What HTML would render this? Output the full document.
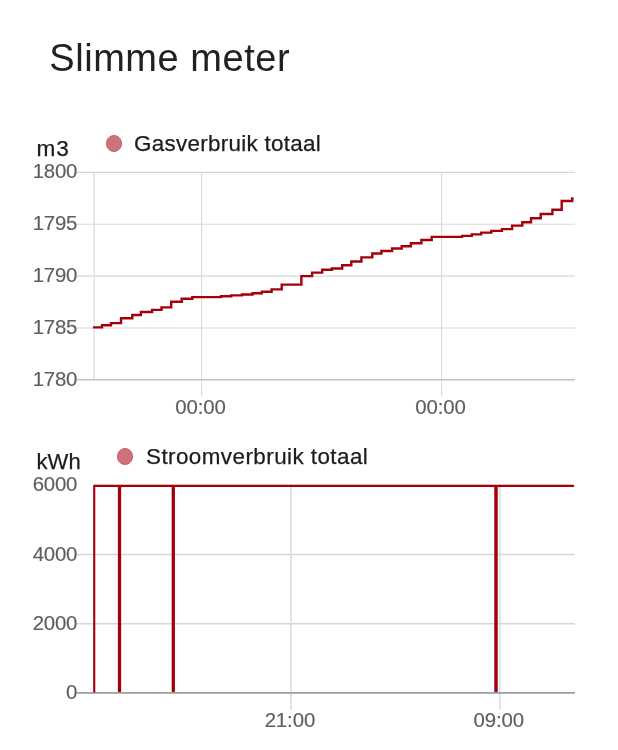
<!DOCTYPE html>
<html lang="nl">
<head>
<meta charset="utf-8">
<title>Slimme meter</title>
<style>
  html, body { margin: 0; padding: 0; background: #ffffff; }
  body { width: 618px; height: 750px; overflow: hidden; position: relative;
         font-family: "Liberation Sans", sans-serif; }
  .t { position: absolute; white-space: nowrap; line-height: 1; }
  #title { left: 49.3px; top: 39.4px; font-size: 38px; letter-spacing: 0.54px; color: #212121; }
  .unit { font-size: 22.4px; color: #1c1c1c; -webkit-text-stroke: 0.25px #1c1c1c; }
  .leg { font-size: 22.4px; color: #1c1c1c; -webkit-text-stroke: 0.25px #1c1c1c; }
  .yl { font-size: 20.4px; letter-spacing: -0.3px; color: #5e5e5e; -webkit-text-stroke: 0.15px #5e5e5e; text-align: right; width: 60px; left: 17px; }
  .xl { font-size: 20.4px; letter-spacing: -0.1px; color: #5e5e5e; -webkit-text-stroke: 0.15px #5e5e5e; text-align: center; width: 80px; }
  .dot { position: absolute; width: 14.4px; height: 14.4px; border-radius: 50%;
         background: #cc7278; border: 1px solid #c8636c; }
  svg { position: absolute; left: 0; top: 0; }
</style>
</head>
<body>
<div class="t" id="title">Slimme meter</div>

<!-- chart 1 -->
<div class="t unit" id="u1" style="left:36.5px; top:138px; font-size:22.6px; letter-spacing:0.9px;">m3</div>
<div class="dot" id="d1" style="left:105.7px; top:135.2px;"></div>
<div class="t leg" id="l1" style="left:134px; top:133.2px; letter-spacing:0.29px;">Gasverbruik totaal</div>

<div class="t yl" id="y1a" style="top:161px;">1800</div>
<div class="t yl" id="y1b" style="top:213px;">1795</div>
<div class="t yl" id="y1c" style="top:265px;">1790</div>
<div class="t yl" id="y1d" style="top:317px;">1785</div>
<div class="t yl" id="y1e" style="top:369px;">1780</div>
<div class="t xl" id="x1a" style="left:160.5px; top:396.8px;">00:00</div>
<div class="t xl" id="x1b" style="left:400.5px; top:396.8px;">00:00</div>

<!-- chart 2 -->
<div class="t unit" id="u2" style="left:36.5px; top:450.8px; font-size:22px; letter-spacing:0.1px;">kWh</div>
<div class="dot" id="d2" style="left:116.9px; top:448.2px;"></div>
<div class="t leg" id="l2" style="left:146px; top:446.2px; letter-spacing:0.45px;">Stroomverbruik totaal</div>

<div class="t yl" id="y2a" style="top:474.3px;">6000</div>
<div class="t yl" id="y2b" style="top:543.5px;">4000</div>
<div class="t yl" id="y2c" style="top:612.7px;">2000</div>
<div class="t yl" id="y2d" style="top:681.9px;">0</div>
<div class="t xl" id="x2a" style="left:249.9px; top:710px;">21:00</div>
<div class="t xl" id="x2b" style="left:458.8px; top:710px;">09:00</div>

<svg width="618" height="750" viewBox="0 0 618 750">
  <!-- chart 1 grid -->
  <g id="grid1" stroke="#d7d7d7" stroke-width="1.15" fill="none">
    <path d="M77 172.3H575M77 224.2H575M77 276.1H575M77 328H575"/>
    <path stroke="#dbdbdb" d="M94.2 171.7V380M201.6 171.7V396.5M441.6 171.7V396.5"/>
  </g>
  <path d="M77 379.8H575" stroke="#c2c2c2" stroke-width="1.6"/>
  <path id="line1" fill="none" stroke="#a3000b" stroke-width="2.4" stroke-linejoin="miter" stroke-linecap="round"
    d="M94 327.4H102 V325.2H111 V323.1H121 V318.3H132.3 V315H140.9 V312H152.1 V309.9H161.5 V307.4H171.2 V301.7H181.7 V298.8H192.3 V297.1H221 V296.2H231.2 V295.4H242 V294.5H252.5 V293.3H261.8 V291.7H271.6 V289.4H281.7 V284.6H301.4 V276.1H312.1 V272.6H322.2 V269.7H331.9 V268.5H342.2 V265.2H351.3 V261.5H361.4 V257.4H372.3 V253.5H381.4 V251H392.1 V248.5H401.7 V246.3H410.9 V243.2H421.4 V240H431.7 V236.9H462.1 V235.9H471.8 V234.4H481.2 V232.6H491.3 V230.9H501.9 V229.1H512.1 V225.6H522.3 V222.3H531 V218.3H540.7 V214H552.4 V209.7H561.7 V201H572.2 V198.4H572.6"/>

  <!-- chart 2 grid -->
  <g id="grid2" stroke="#d6d6d6" stroke-width="1.4" fill="none">
    <path d="M94 485.4H575M77 554.5H575M77 623.7H575"/>
    <path stroke="#dddddd" stroke-width="1.6" d="M94.1 484.6V693M290.9 484.6V710M499.8 484.6V710"/>
  </g>
  <path d="M77 692.9H575" stroke="#9e9e9e" stroke-width="1.7"/>
  <defs><clipPath id="c2"><rect x="93.2" y="480" width="482" height="212.5"/></clipPath></defs>
  <g clip-path="url(#c2)">
  <path id="line2" fill="none" stroke="#a3000b" stroke-width="2.4" stroke-linejoin="round" stroke-linecap="round"
    d="M94.1 694V485.9H119.05V691.1H119.95V485.9H172.85V691.1H173.75V485.9H495.45V691.1H496.55V485.9H572.9"/>
  </g>
</svg>
</body>
</html>
